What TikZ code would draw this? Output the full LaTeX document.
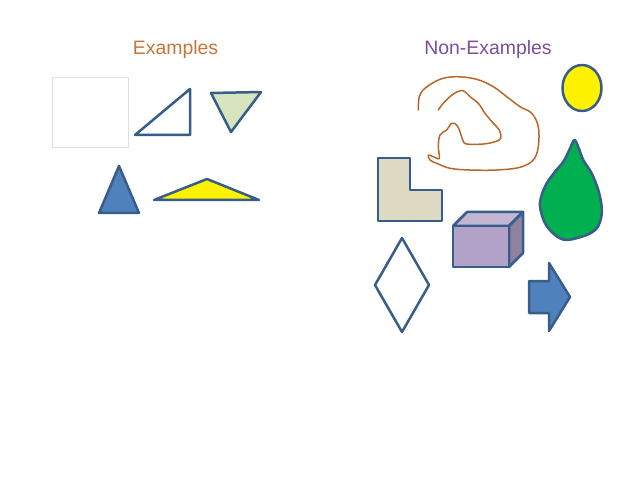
\documentclass[tikz,border=0pt]{standalone}
\usepackage{fontspec}
\setmainfont{Liberation Sans}
\usetikzlibrary{calc}
\definecolor{exorange}{HTML}{C8743A}
\definecolor{expurple}{HTML}{7A4F9A}
\definecolor{shpblue}{HTML}{385D8A}
\definecolor{fillblue}{HTML}{4F81BD}
\definecolor{fillolive}{HTML}{D7E4BD}
\definecolor{filltan}{HTML}{DDD9C3}
\definecolor{fillviolet}{HTML}{B3A2C7}
\definecolor{fillgreen}{HTML}{00B050}
\definecolor{scribble}{HTML}{B8672B}

\begin{document}
\begin{tikzpicture}[
  x=1bp, y=-1bp,
  title/.style={font=\fontsize{19.5}{22}\selectfont, anchor=base},
  figure/.style={draw=shpblue, line width=2.5bp, line join=round},
  frame/.style={draw=black!12, line width=0.5bp},
  doodle/.style={draw=scribble, line width=1.5bp, line join=round, line cap=round},
]
  \useasboundingbox (0,0) rectangle (638,479);

  %% ---- Titles ----
  \node[title, text=exorange] (extitle)  at (175.5,55) {Examples};
  \node[title, text=expurple] (nontitle) at (488,55)   {Non-Examples};

  %% ---- Examples ----
  \draw[frame] (52,77) rectangle (128,147);
  \draw[figure, fill=white]     (135,135) -- (190,89) -- (190,135) -- cycle;
  \draw[figure, fill=fillolive] (211,93) -- (261,92) -- (231,132) -- cycle;
  \draw[figure, fill=fillblue]  (119,166) -- (139,213) -- (99,213) -- cycle;
  \draw[figure, fill=yellow]    (154,200) -- (207,179) -- (259,200) -- cycle;

  %% ---- Non-examples ----
  % scribble
  \draw[doodle] plot[smooth, tension=0.6] coordinates {
    (438.3,110) (443.3,103.3) (453.3,94) (462.7,90.7) (470,96.7) (478.3,103.3)
    (485,113.3) (493.3,123.3) (499.3,130) (500.7,138.3) (495,141.7) (483.3,144)
    (466.7,144) (462.7,140) (460,131.7) (456.7,125) (451.7,123.3) (446.7,130)
    (440,135) (438.3,146.7) (439.3,158.3) (433.3,156.7) (428.3,155) (430,160)
    (436.7,163.3) (450,168.3) (470,170) (496.7,170) (520,167.3) (533.3,160)
    (538.3,146.7) (538.3,126.7) (531.7,113.3) (520,106.7) (506.7,96.7)
    (493.3,86.7) (476.7,79.3) (456.7,76.7) (440,79.3) (425,88.3) (419.3,96.7)
    (418.3,110)};
  % sun
  \draw[figure, fill=yellow] (582,88) ellipse [x radius=19.5, y radius=23];
  % drop
  \draw[figure, fill=fillgreen] plot[smooth cycle, tension=0.55] coordinates {
    (574.3,140) (578.3,147) (583.3,160) (591.7,173.3) (598.3,190) (601.7,206.7)
    (601,218.3) (596.7,228.3) (586.7,235) (566.7,240) (555,235) (545,223.3)
    (540,206.7) (541.7,195) (546.7,183.3) (555,171.7) (563.3,161.7) (569.3,150)};
  % L shape
  \draw[figure, fill=filltan] (378,158) -- (410,158) -- (410,190) -- (442,190)
    -- (442,221) -- (378,221) -- cycle;
  % box
  \draw[figure, fill=fillviolet!80] (453,226) -- (467,212) -- (523,212) -- (509,226) -- cycle;
  \draw[figure, fill=fillviolet!80!black] (509,226) -- (523,212) -- (523,253) -- (509,267) -- cycle;
  \draw[figure, fill=fillviolet] (453,226) rectangle (509,267);
  % diamond
  \draw[figure, fill=white] (402,238) -- (429,285) -- (402,332) -- (375,285) -- cycle;
  % arrow
  \draw[figure, fill=fillblue] (529,281) -- (549,281) -- (549,263) -- (570,297)
    -- (549,331) -- (549,313) -- (529,313) -- cycle;

\end{tikzpicture}
\end{document}
